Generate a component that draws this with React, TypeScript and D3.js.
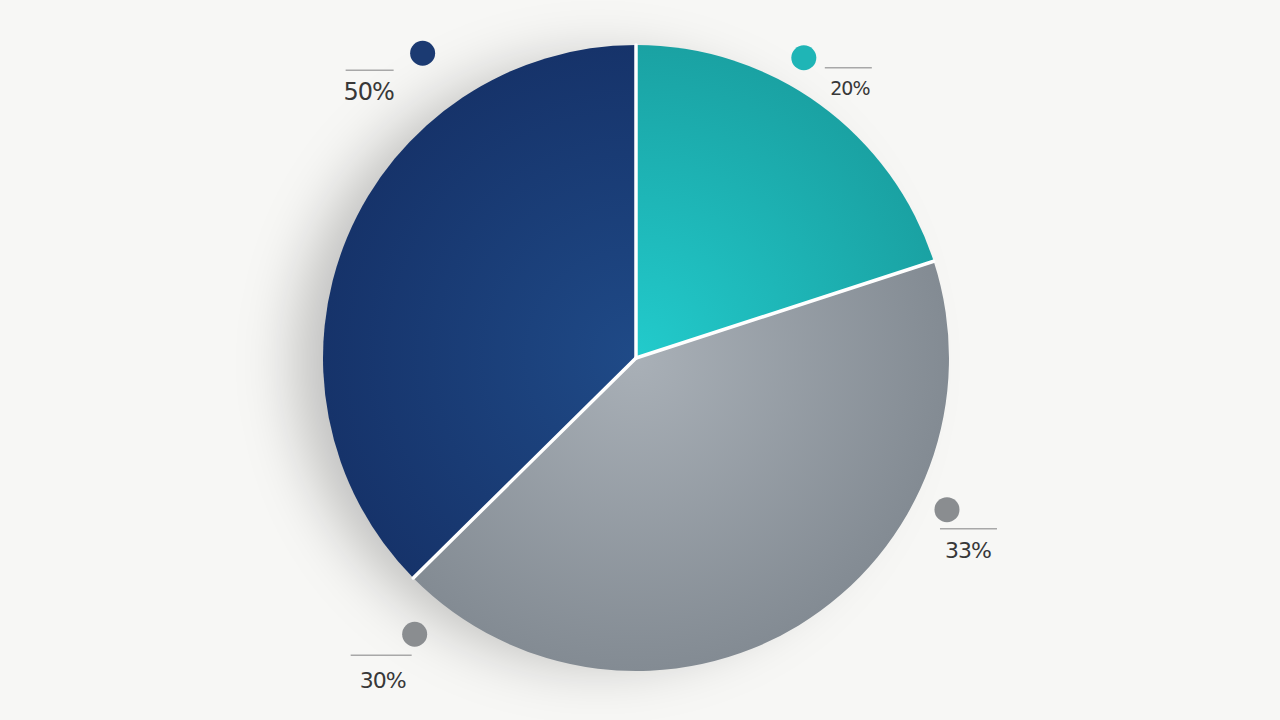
import React, { useEffect, useRef } from 'react';
import * as d3 from 'd3';

// slice shares, clockwise from 12 o'clock
const sliceNames = ['Teal', 'Gray', 'Navy'];
const sliceValues = [20, 42.6, 37.4];
const sliceColors = [
  { inner: '#22cbcc', outer: '#1aa2a3' },
  { inner: '#a9b0b7', outer: '#838b93' },
  { inner: '#1f4a87', outer: '#16336a' },
];

// callout annotations
const calloutLabels = ['50%', '20%', '33%', '30%'];
const calloutColors = ['#1b3a72', '#1fb5b6', '#8a8d90', '#8a8d90'];

// callout layout: angle (deg, clockwise from top), radius, line/text offsets from dot
const calloutLayout = [
  { angle: -35, r: 372, line: [-77, -29, 17], text: [-54, 47], size: 24 },
  { angle: 29.2, r: 344, line: [21, 68, 10], text: [46, 37], size: 19 },
  { angle: 116, r: 346, line: [-7, 50, 19], text: [21, 48], size: 22 },
  { angle: 218.7, r: 354, line: [-64, -3, 21], text: [-32, 54], size: 22 },
];

export default function App() {
  const ref = useRef<SVGSVGElement>(null);

  useEffect(() => {
    if (!ref.current) return;
    const svg = d3.select(ref.current);
    svg.selectAll('*').remove();

    const width = 1280;
    const height = 720;
    const cx = 636;
    const cy = 358;
    const radius = 313;

    svg.attr('width', width).attr('height', height);
    svg.append('rect').attr('width', width).attr('height', height).attr('fill', '#f7f7f5');

    const defs = svg.append('defs');
    const shadow = defs.append('filter').attr('id', 'pieShadow')
      .attr('x', '-40%').attr('y', '-40%').attr('width', '180%').attr('height', '180%');
    shadow.append('feGaussianBlur').attr('stdDeviation', 28);

    sliceColors.forEach((c, i) => {
      const grad = defs.append('radialGradient')
        .attr('id', `sliceGrad${i}`)
        .attr('gradientUnits', 'userSpaceOnUse')
        .attr('cx', 0).attr('cy', 0).attr('r', radius);
      grad.append('stop').attr('offset', '0%').attr('stop-color', c.inner);
      grad.append('stop').attr('offset', '100%').attr('stop-color', c.outer);
    });

    const g = svg.append('g').attr('transform', `translate(${cx},${cy})`);

    // soft shadow behind the pie, mostly to the left
    g.append('circle')
      .attr('cx', -38).attr('cy', 4).attr('r', radius - 10)
      .attr('fill', 'rgba(0,0,0,0.22)')
      .attr('filter', 'url(#pieShadow)');

    const pie = d3.pie<number>().sort(null).value(d => d);
    const arc = d3.arc<d3.PieArcDatum<number>>().innerRadius(0).outerRadius(radius);
    const arcs = pie(sliceValues);

    g.selectAll('path.slice')
      .data(arcs)
      .enter()
      .append('path')
      .attr('class', 'slice')
      .attr('d', arc)
      .attr('fill', (_, i) => `url(#sliceGrad${i})`)
      .append('title')
      .text((d, i) => `${sliceNames[i]}: ${d.data}`);

    // white separators between slices
    g.selectAll('line.sep')
      .data(arcs)
      .enter()
      .append('line')
      .attr('class', 'sep')
      .attr('x1', 0).attr('y1', 0)
      .attr('x2', d => d3.pointRadial(d.startAngle, radius)[0])
      .attr('y2', d => d3.pointRadial(d.startAngle, radius)[1])
      .attr('stroke', '#ffffff')
      .attr('stroke-width', 3.5)
      .attr('stroke-linecap', 'round');

    // callouts
    calloutLabels.forEach((label, i) => {
      const lay = calloutLayout[i];
      const [px, py] = d3.pointRadial((lay.angle * Math.PI) / 180, lay.r);
      const cg = g.append('g').attr('transform', `translate(${px},${py})`);
      cg.append('circle').attr('r', 12.5).attr('fill', calloutColors[i]);
      cg.append('line')
        .attr('x1', lay.line[0]).attr('x2', lay.line[1])
        .attr('y1', lay.line[2]).attr('y2', lay.line[2])
        .attr('stroke', '#a8a8a8').attr('stroke-width', 1.6);
      cg.append('text')
        .attr('x', lay.text[0]).attr('y', lay.text[1])
        .attr('text-anchor', 'middle')
        .attr('font-family', 'DejaVu Sans, sans-serif')
        .attr('font-size', lay.size)
        .attr('letter-spacing', -1)
        .attr('fill', '#383838')
        .text(label);
    });
  }, []);

  return (
    <div style={{ position: 'fixed', left: 0, top: 0, width: 1280, height: 720, background: '#f7f7f5' }}>
      <svg ref={ref} style={{ display: 'block' }} />
    </div>
  );
}
